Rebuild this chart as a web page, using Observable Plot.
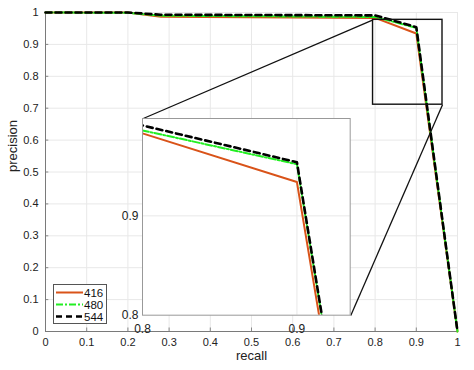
<!DOCTYPE html>
<html><head><meta charset="utf-8">
<script src="https://cdn.jsdelivr.net/npm/d3@7"></script>
<script src="https://cdn.jsdelivr.net/npm/@observablehq/plot@0.6"></script>
<style>
body{margin:0;background:#fff;font-family:"Liberation Sans",Arial,sans-serif;}
#wrap{position:relative;width:474px;height:370px;}
#wrap svg{position:absolute;}
#legend{position:absolute;left:53px;top:284px;width:52px;height:38px;border:1px solid #555;background:#fff;font-size:11px;}
</style></head><body>
<div id="wrap"></div>
<script>
// data
const recall = [0, 0.2, 0.28, 0.8, 0.9, 1.0];
const p416 = [1, 1, 0.987, 0.983, 0.934, 0];
const p480 = [1, 0.999, 0.990, 0.986, 0.952, 0];
const p544 = [1, 1, 0.993, 0.991, 0.954, 0];
const seriesNames = ["416", "480", "544"];
const seriesColors = ["#D95319", "#22EE22", "#000000"];
const seriesDash = [null, "7,2,2,2", "6,4"];
const seriesWidth = [2, 2, 2.6];
const xTicks = [0, 0.1, 0.2, 0.3, 0.4, 0.5, 0.6, 0.7, 0.8, 0.9, 1];
const yTicks = [0, 0.1, 0.2, 0.3, 0.4, 0.5, 0.6, 0.7, 0.8, 0.9, 1];
// zoom rectangle (main data coords) and connector lines
const zoomRectX = [0.795, 0.9636];
const zoomRectY = [0.711, 0.977];
const connectorX1 = [0.795, 0.9636];
const connectorY1 = [0.977, 0.711];
const connectorX2 = [0.236, 0.741];
const connectorY2 = [0.667, 0.050];
// inset
const insetX = [0.8, 0.9345];
const insetY = [0.8, 0.998];
const insetTicks = [0.8, 0.9];

const allSeries = [p416, p480, p544];
const rows = s => recall.map((r, i) => ({x: r, y: allSeries[s][i]}));
const lineMarks = (clip) => allSeries.map((_, s) => Plot.line(rows(s), {
  x: "x", y: "y", stroke: seriesColors[s], strokeWidth: seriesWidth[s],
  strokeDasharray: seriesDash[s], clip
}));
const fmt = d => d === 0 ? "0" : d === 1 ? "1" : String(d);

const main = Plot.plot({
  width: 474, height: 370,
  marginLeft: 45, marginRight: 17, marginTop: 12, marginBottom: 39,
  style: {fontFamily: '"Liberation Sans", Arial, sans-serif', fontSize: "11px", color: "#222", background: "transparent"},
  x: {domain: [0, 1]},
  y: {domain: [0, 1]},
  marks: [
    Plot.ruleX(xTicks, {x: d => d, stroke: "#e8e8e8"}),
    Plot.ruleY(yTicks, {y: d => d, stroke: "#e8e8e8"}),
    Plot.axisX(xTicks, {tickSize: 0, tickPadding: 7, tickFormat: fmt, label: null, fontSize: 11}),
    Plot.axisY(yTicks, {tickSize: 0, tickPadding: 7, tickFormat: fmt, label: null, fontSize: 11}),
    Plot.ruleX(xTicks, {x: d => d, y1: 0, y2: 0.011, stroke: "#888"}),
    Plot.ruleY(yTicks, {y: d => d, x1: 0, x2: 0.008, stroke: "#888"}),
    Plot.ruleY([0], {stroke: "#7a7a7a"}),
    Plot.ruleX([0], {stroke: "#7a7a7a"}),
    ...lineMarks(false),
    Plot.rect([0], {x1: zoomRectX[0], x2: zoomRectX[1], y1: zoomRectY[0], y2: zoomRectY[1], fill: "none", stroke: "#111", strokeWidth: 1.4}),
    Plot.link([0, 1], {x1: i => connectorX1[i], y1: i => connectorY1[i], x2: i => connectorX2[i], y2: i => connectorY2[i], stroke: "#111", strokeWidth: 1.3}),
    Plot.text(["recall"], {frameAnchor: "bottom", dy: 28, fontSize: 13, fill: "#222"}),
    Plot.text(["precision"], {frameAnchor: "left", dx: -33, rotate: -90, fontSize: 13, fill: "#222"})
  ]
});
main.style.left = "0px"; main.style.top = "0px";
document.getElementById("wrap").appendChild(main);

// inset plot
const iL = 30, iT = 2, iR = 2, iB = 22;
const inset = Plot.plot({
  width: iL + 207.7 + iR, height: iT + 196.7 + iB,
  marginLeft: iL, marginTop: iT, marginRight: iR, marginBottom: iB,
  style: {fontFamily: '"Liberation Sans", Arial, sans-serif', fontSize: "12px", color: "#222", background: "transparent", overflow: "visible"},
  x: {domain: insetX},
  y: {domain: insetY},
  marks: [
    Plot.frame({fill: "white", stroke: null}),
    Plot.ruleX([0.9], {x: d => d, stroke: "#e8e8e8"}),
    Plot.ruleY([0.9], {y: d => d, stroke: "#e8e8e8"}),
    Plot.axisX(insetTicks, {tickSize: 0, tickPadding: 9, tickFormat: fmt, label: null, fontSize: 12}),
    Plot.axisY(insetTicks, {tickSize: 0, tickPadding: 4, tickFormat: fmt, label: null, fontSize: 12}),
    ...lineMarks(true),
    Plot.frame({stroke: "#999", strokeWidth: 1})
  ]
});
inset.style.left = (142.3 - iL) + "px"; inset.style.top = (118.3 - iT) + "px";
document.getElementById("wrap").appendChild(inset);

// legend
const leg = document.createElement("div");
leg.id = "legend";
const lsvg = d3.create("svg").attr("width", 52).attr("height", 38).style("position", "static");
seriesNames.forEach((n, i) => {
  const y = 7.5 + i * 12;
  lsvg.append("line").attr("x1", 2).attr("x2", 29).attr("y1", y).attr("y2", y)
    .attr("stroke", seriesColors[i]).attr("stroke-width", seriesWidth[i])
    .attr("stroke-dasharray", seriesDash[i]);
  lsvg.append("text").attr("x", 30).attr("y", y + 4).text(n)
    .style("font-family", '"Liberation Sans", Arial, sans-serif').style("font-size", "11.5px").attr("fill", "#111");
});
leg.appendChild(lsvg.node());
document.getElementById("wrap").appendChild(leg);
</script>
</body></html>
